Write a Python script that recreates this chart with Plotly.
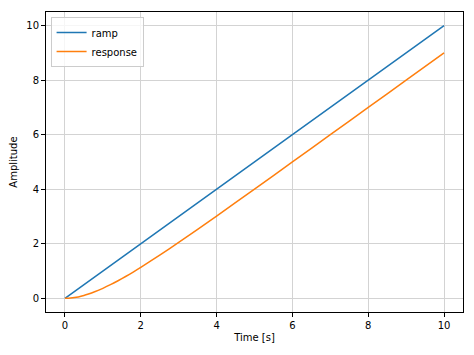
import plotly.graph_objects as go

time_s = [0, 0.1, 0.2, 0.3, 0.4, 0.5, 0.6, 0.8, 1.0, 1.2, 1.4, 1.6, 1.8, 2.0, 2.5, 3.0, 3.5, 4.0, 5.0, 6.0, 7.0, 8.0, 9.0, 10.0]
ramp = [0, 0.1, 0.2, 0.3, 0.4, 0.5, 0.6, 0.8, 1.0, 1.2, 1.4, 1.6, 1.8, 2.0, 2.5, 3.0, 3.5, 4.0, 5.0, 6.0, 7.0, 8.0, 9.0, 10.0]
response = [0, 0.005, 0.019, 0.041, 0.07, 0.107, 0.149, 0.249, 0.368, 0.501, 0.647, 0.802, 0.965, 1.135, 1.582, 2.05, 2.53, 3.018, 4.007, 5.002, 6.001, 7.0, 8.0, 9.0]

x_ticks = [0, 2, 4, 6, 8, 10]
y_ticks = [0, 2, 4, 6, 8, 10]

font = dict(family="DejaVu Sans", size=10, color="black")

fig = go.Figure()
fig.add_trace(go.Scatter(x=time_s, y=ramp, mode="lines", name="ramp",
                         line=dict(color="#1f77b4", width=1.5)))
fig.add_trace(go.Scatter(x=time_s, y=response, mode="lines", name="response",
                         line=dict(color="#ff7f0e", width=1.5, shape="spline", smoothing=0.5)))

axis_common = dict(
    showline=True, linecolor="black", linewidth=1, mirror=True,
    ticks="outside", ticklen=4, tickwidth=1, tickcolor="black",
    showgrid=True, gridcolor="#d3d3d3", gridwidth=1, zeroline=False,
    tickfont=font, automargin=False,
)

fig.update_layout(
    width=474, height=355,
    margin=dict(l=38, r=19, t=4, b=51, autoexpand=False),
    paper_bgcolor="white", plot_bgcolor="white",
    font=font,
    xaxis=dict(range=[-0.5, 10.5], tickvals=x_ticks,
               title=dict(text="Time [s]", font=font, standoff=3), **axis_common),
    yaxis=dict(range=[-0.5, 10.5], tickvals=y_ticks,
               title=dict(text="Amplitude", font=font, standoff=6), **axis_common),
    legend=dict(x=0.011, y=0.983, xanchor="left", yanchor="top",
                bgcolor="rgba(255,255,255,0.8)", bordercolor="#cccccc", borderwidth=1,
                font=font, itemwidth=30, tracegroupgap=0),
    showlegend=True,
)

fig.write_html("out.html")
